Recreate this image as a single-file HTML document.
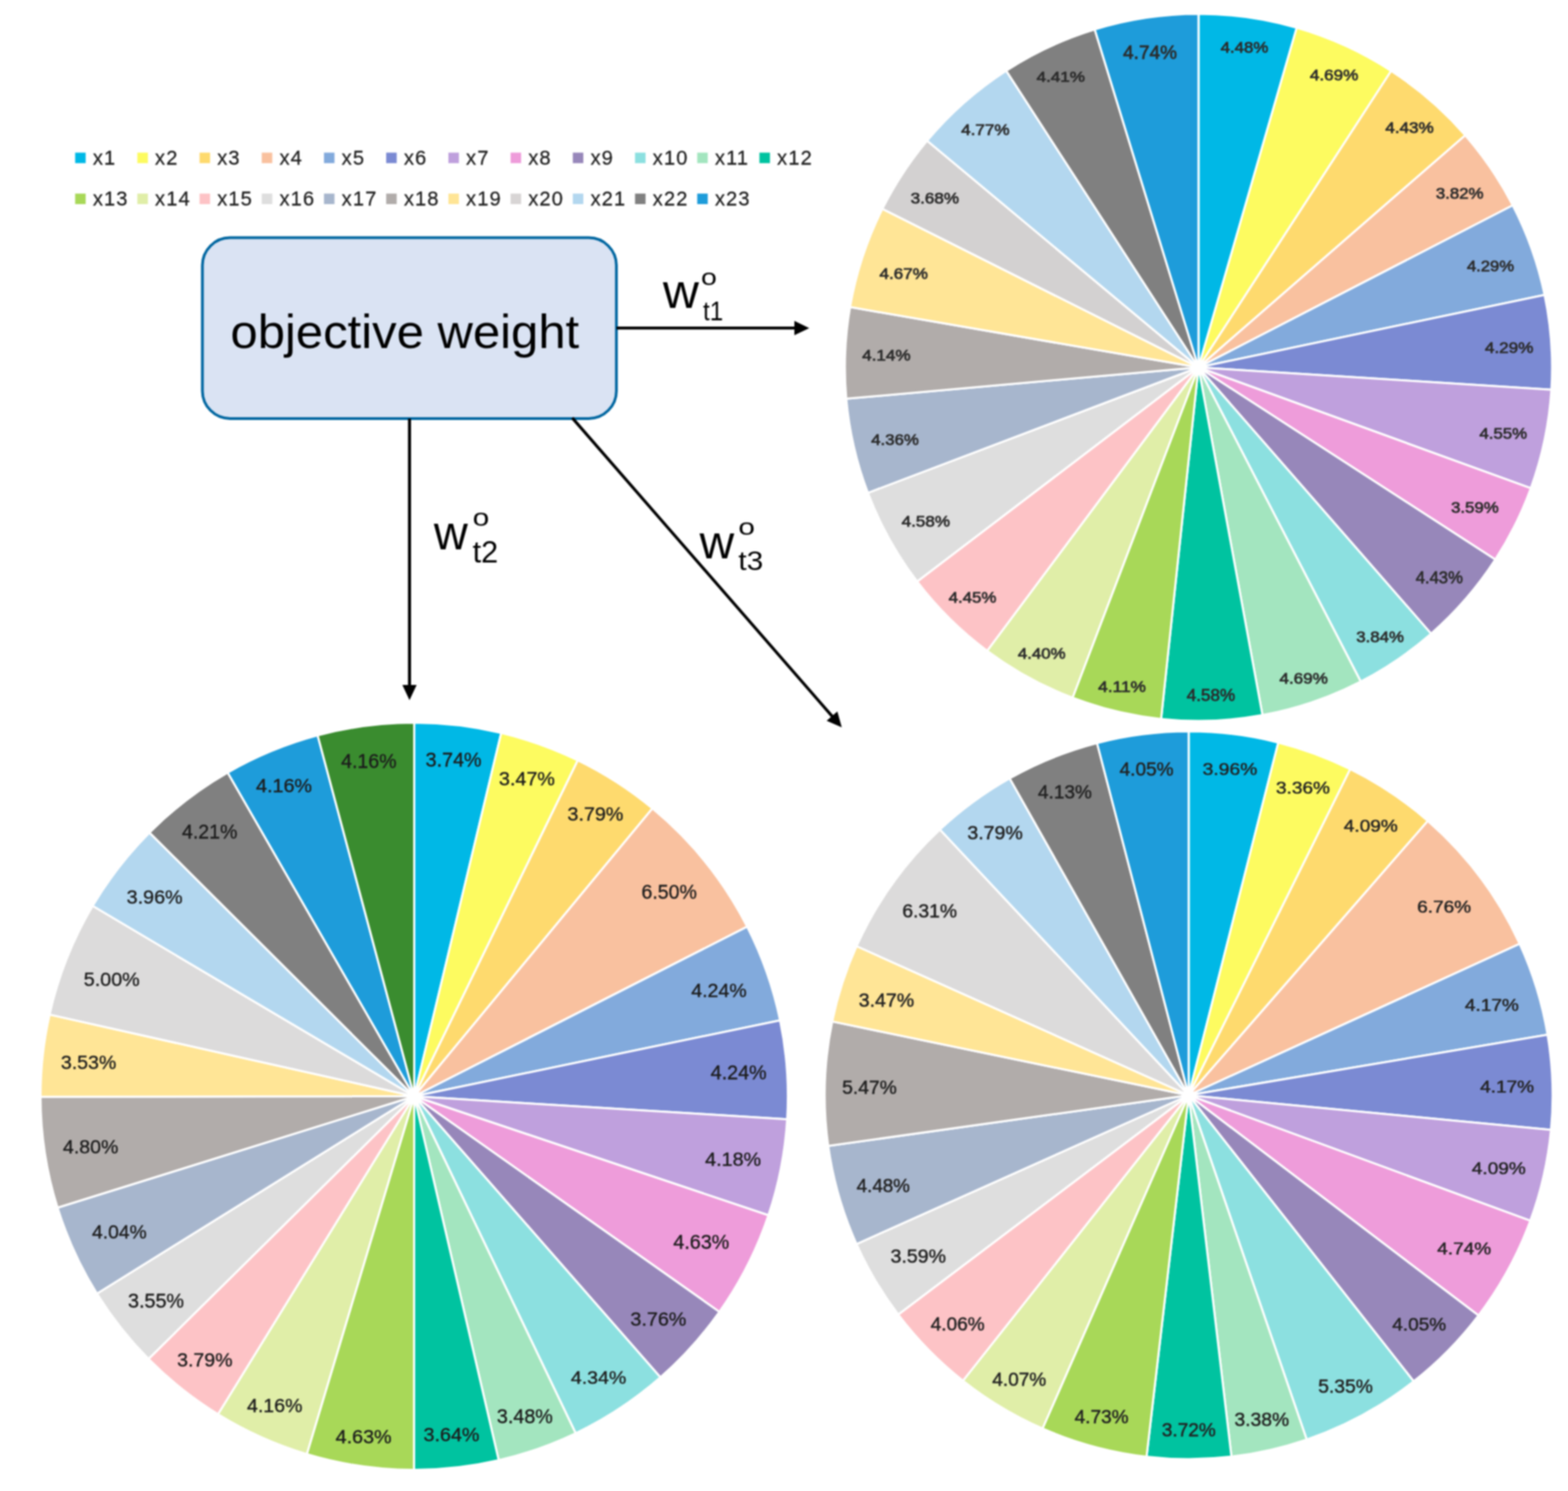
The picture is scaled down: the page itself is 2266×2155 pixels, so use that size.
<!DOCTYPE html><html><head><meta charset="utf-8"><title>objective weight</title><style>html,body{margin:0;padding:0;background:#fff;}body{width:2266px;height:2155px;overflow:hidden;}svg{display:block;filter:blur(0.8px);}</style></head><body><svg width="2266" height="2155" viewBox="0 0 2266 2155"><rect x="108.6" y="220.6" width="15.2" height="15.2" fill="#00B8E6"/><rect x="198.5" y="220.6" width="15.2" height="15.2" fill="#FDFB60"/><rect x="288.4" y="220.6" width="15.2" height="15.2" fill="#FEDA6E"/><rect x="378.3" y="220.6" width="15.2" height="15.2" fill="#F9C19F"/><rect x="468.2" y="220.6" width="15.2" height="15.2" fill="#82AADC"/><rect x="558.1" y="220.6" width="15.2" height="15.2" fill="#7B8AD3"/><rect x="648.0" y="220.6" width="15.2" height="15.2" fill="#BFA0DD"/><rect x="737.9" y="220.6" width="15.2" height="15.2" fill="#EE9CDA"/><rect x="827.8" y="220.6" width="15.2" height="15.2" fill="#9787BA"/><rect x="917.7" y="220.6" width="15.2" height="15.2" fill="#8CE0E0"/><rect x="1007.6" y="220.6" width="15.2" height="15.2" fill="#A3E5BF"/><rect x="1097.5" y="220.6" width="15.2" height="15.2" fill="#00C3A0"/><rect x="108.6" y="279.8" width="15.2" height="15.2" fill="#A8D858"/><rect x="198.5" y="279.8" width="15.2" height="15.2" fill="#E0EEA8"/><rect x="288.4" y="279.8" width="15.2" height="15.2" fill="#FDC3C6"/><rect x="378.3" y="279.8" width="15.2" height="15.2" fill="#DEDEDE"/><rect x="468.2" y="279.8" width="15.2" height="15.2" fill="#A7B6CD"/><rect x="558.1" y="279.8" width="15.2" height="15.2" fill="#B1ACAA"/><rect x="648.0" y="279.8" width="15.2" height="15.2" fill="#FFE596"/><rect x="737.9" y="279.8" width="15.2" height="15.2" fill="#D8D5D5"/><rect x="827.8" y="279.8" width="15.2" height="15.2" fill="#B3D7EF"/><rect x="917.7" y="279.8" width="15.2" height="15.2" fill="#808080"/><rect x="1007.6" y="279.8" width="15.2" height="15.2" fill="#1E9CDA"/><rect x="292.5" y="343.6" width="598.3" height="261.3" rx="40" ry="40" fill="#DAE3F3" stroke="#0066A0" stroke-width="4"/><g stroke="#000" fill="none"><line x1="891" y1="474.2" x2="1150" y2="474.2" stroke-width="4.2"/><line x1="591.8" y1="605" x2="591.8" y2="992" stroke-width="4.4"/><line x1="827" y1="604" x2="1205" y2="1038" stroke-width="4.2"/></g><g fill="#000"><polygon points="1148,463.8 1169.5,474.2 1148,484.6"/><polygon points="581.5,990 591.8,1012 602.1,990"/><polygon points="1194.6,1041.8 1216.5,1051.3 1210.1,1028.3"/></g><g stroke="#fff" stroke-width="3.0" stroke-linejoin="round"><path d="M1732.0 531.0L1732.00 20.00A511.0 511.0 0 0 1 1873.96 40.12Z" fill="#00B8E6"/><path d="M1732.0 531.0L1873.96 40.12A511.0 511.0 0 0 1 2010.42 102.51Z" fill="#FDFB60"/><path d="M1732.0 531.0L2010.42 102.51A511.0 511.0 0 0 1 2117.45 195.52Z" fill="#FEDA6E"/><path d="M1732.0 531.0L2117.45 195.52A511.0 511.0 0 0 1 2186.16 296.77Z" fill="#F9C19F"/><path d="M1732.0 531.0L2186.16 296.77A511.0 511.0 0 0 1 2232.14 426.19Z" fill="#82AADC"/><path d="M1732.0 531.0L2232.14 426.19A511.0 511.0 0 0 1 2241.99 563.17Z" fill="#7B8AD3"/><path d="M1732.0 531.0L2241.99 563.17A511.0 511.0 0 0 1 2212.21 705.70Z" fill="#BFA0DD"/><path d="M1732.0 531.0L2212.21 705.70A511.0 511.0 0 0 1 2160.97 808.68Z" fill="#EE9CDA"/><path d="M1732.0 531.0L2160.97 808.68A511.0 511.0 0 0 1 2068.15 915.87Z" fill="#9787BA"/><path d="M1732.0 531.0L2068.15 915.87A511.0 511.0 0 0 1 1966.44 985.05Z" fill="#8CE0E0"/><path d="M1732.0 531.0L1966.44 985.05A511.0 511.0 0 0 1 1824.45 1033.57Z" fill="#A3E5BF"/><path d="M1732.0 531.0L1824.45 1033.57A511.0 511.0 0 0 1 1678.00 1039.14Z" fill="#00C3A0"/><path d="M1732.0 531.0L1678.00 1039.14A511.0 511.0 0 0 1 1550.01 1008.49Z" fill="#A8D858"/><path d="M1732.0 531.0L1550.01 1008.49A511.0 511.0 0 0 1 1426.57 940.68Z" fill="#E0EEA8"/><path d="M1732.0 531.0L1426.57 940.68A511.0 511.0 0 0 1 1325.37 840.47Z" fill="#FDC3C6"/><path d="M1732.0 531.0L1325.37 840.47A511.0 511.0 0 0 1 1254.25 712.32Z" fill="#DEDEDE"/><path d="M1732.0 531.0L1254.25 712.32A511.0 511.0 0 0 1 1223.01 576.30Z" fill="#A7B6CD"/><path d="M1732.0 531.0L1223.01 576.30A511.0 511.0 0 0 1 1228.49 443.85Z" fill="#B1ACAA"/><path d="M1732.0 531.0L1228.49 443.85A511.0 511.0 0 0 1 1275.22 301.93Z" fill="#FFE596"/><path d="M1732.0 531.0L1275.22 301.93A511.0 511.0 0 0 1 1339.88 203.34Z" fill="#D3D1D1"/><path d="M1732.0 531.0L1339.88 203.34A511.0 511.0 0 0 1 1454.11 102.16Z" fill="#B3D7EF"/><path d="M1732.0 531.0L1454.11 102.16A511.0 511.0 0 0 1 1582.04 42.50Z" fill="#808080"/><path d="M1732.0 531.0L1582.04 42.50A511.0 511.0 0 0 1 1732.00 20.00Z" fill="#1E9CDA"/></g><circle cx="1732" cy="531" r="9" fill="#fff"/><g stroke="#fff" stroke-width="3.0" stroke-linejoin="round"><path d="M598.6 1584.5L598.60 1044.50A540.0 540.0 0 0 1 724.33 1059.34Z" fill="#00B8E6"/><path d="M598.6 1584.5L724.33 1059.34A540.0 540.0 0 0 1 834.95 1098.97Z" fill="#FDFB60"/><path d="M598.6 1584.5L834.95 1098.97A540.0 540.0 0 0 1 942.81 1168.42Z" fill="#FEDA6E"/><path d="M598.6 1584.5L942.81 1168.42A540.0 540.0 0 0 1 1079.74 1339.35Z" fill="#F9C19F"/><path d="M598.6 1584.5L1079.74 1339.35A540.0 540.0 0 0 1 1127.31 1474.66Z" fill="#82AADC"/><path d="M598.6 1584.5L1127.31 1474.66A540.0 540.0 0 0 1 1137.58 1617.73Z" fill="#7B8AD3"/><path d="M598.6 1584.5L1137.58 1617.73A540.0 540.0 0 0 1 1110.47 1756.52Z" fill="#BFA0DD"/><path d="M598.6 1584.5L1110.47 1756.52A540.0 540.0 0 0 1 1039.62 1896.11Z" fill="#EE9CDA"/><path d="M598.6 1584.5L1039.62 1896.11A540.0 540.0 0 0 1 954.43 1990.68Z" fill="#9787BA"/><path d="M598.6 1584.5L954.43 1990.68A540.0 540.0 0 0 1 831.89 2071.51Z" fill="#8CE0E0"/><path d="M598.6 1584.5L831.89 2071.51A540.0 540.0 0 0 1 720.70 2110.52Z" fill="#A3E5BF"/><path d="M598.6 1584.5L720.70 2110.52A540.0 540.0 0 0 1 598.26 2124.50Z" fill="#00C3A0"/><path d="M598.6 1584.5L598.26 2124.50A540.0 540.0 0 0 1 443.39 2101.71Z" fill="#A8D858"/><path d="M598.6 1584.5L443.39 2101.71A540.0 540.0 0 0 1 315.01 2044.04Z" fill="#E0EEA8"/><path d="M598.6 1584.5L315.01 2044.04A540.0 540.0 0 0 1 214.61 1964.17Z" fill="#FDC3C6"/><path d="M598.6 1584.5L214.61 1964.17A540.0 540.0 0 0 1 140.14 1869.82Z" fill="#DEDEDE"/><path d="M598.6 1584.5L140.14 1869.82A540.0 540.0 0 0 1 83.18 1745.55Z" fill="#A7B6CD"/><path d="M598.6 1584.5L83.18 1745.55A540.0 540.0 0 0 1 58.60 1585.18Z" fill="#B1ACAA"/><path d="M598.6 1584.5L58.60 1585.18A540.0 540.0 0 0 1 71.68 1466.37Z" fill="#FFE596"/><path d="M598.6 1584.5L71.68 1466.37A540.0 540.0 0 0 1 133.97 1309.33Z" fill="#DCDBDB"/><path d="M598.6 1584.5L133.97 1309.33A540.0 540.0 0 0 1 216.04 1203.38Z" fill="#B3D7EF"/><path d="M598.6 1584.5L216.04 1203.38A540.0 540.0 0 0 1 328.99 1116.62Z" fill="#808080"/><path d="M598.6 1584.5L328.99 1116.62A540.0 540.0 0 0 1 459.06 1062.84Z" fill="#1E9CDA"/><path d="M598.6 1584.5L459.06 1062.84A540.0 540.0 0 0 1 598.60 1044.50Z" fill="#3A8C2F"/></g><circle cx="598.6" cy="1584.5" r="9" fill="#fff"/><g stroke="#fff" stroke-width="3.0" stroke-linejoin="round"><path d="M1717.8 1583.0L1717.80 1057.00A526.0 526.0 0 0 1 1847.34 1073.20Z" fill="#00B8E6"/><path d="M1717.8 1583.0L1847.34 1073.20A526.0 526.0 0 0 1 1951.30 1111.67Z" fill="#FDFB60"/><path d="M1717.8 1583.0L1951.30 1111.67A526.0 526.0 0 0 1 2063.44 1186.51Z" fill="#FEDA6E"/><path d="M1717.8 1583.0L2063.44 1186.51A526.0 526.0 0 0 1 2196.13 1364.19Z" fill="#F9C19F"/><path d="M1717.8 1583.0L2196.13 1364.19A526.0 526.0 0 0 1 2236.48 1495.57Z" fill="#82AADC"/><path d="M1717.8 1583.0L2236.48 1495.57A526.0 526.0 0 0 1 2241.43 1632.92Z" fill="#7B8AD3"/><path d="M1717.8 1583.0L2241.43 1632.92A526.0 526.0 0 0 1 2211.54 1764.38Z" fill="#BFA0DD"/><path d="M1717.8 1583.0L2211.54 1764.38A526.0 526.0 0 0 1 2136.57 1901.29Z" fill="#EE9CDA"/><path d="M1717.8 1583.0L2136.57 1901.29A526.0 526.0 0 0 1 2042.95 1996.46Z" fill="#9787BA"/><path d="M1717.8 1583.0L2042.95 1996.46A526.0 526.0 0 0 1 1888.35 2080.58Z" fill="#8CE0E0"/><path d="M1717.8 1583.0L1888.35 2080.58A526.0 526.0 0 0 1 1779.63 2105.35Z" fill="#A3E5BF"/><path d="M1717.8 1583.0L1779.63 2105.35A526.0 526.0 0 0 1 1656.95 2105.47Z" fill="#00C3A0"/><path d="M1717.8 1583.0L1656.95 2105.47A526.0 526.0 0 0 1 1506.61 2064.74Z" fill="#A8D858"/><path d="M1717.8 1583.0L1506.61 2064.74A526.0 526.0 0 0 1 1391.61 1995.65Z" fill="#E0EEA8"/><path d="M1717.8 1583.0L1391.61 1995.65A526.0 526.0 0 0 1 1298.03 1899.97Z" fill="#FDC3C6"/><path d="M1717.8 1583.0L1298.03 1899.97A526.0 526.0 0 0 1 1237.77 1798.05Z" fill="#DEDEDE"/><path d="M1717.8 1583.0L1237.77 1798.05A526.0 526.0 0 0 1 1196.92 1656.22Z" fill="#A7B6CD"/><path d="M1717.8 1583.0L1196.92 1656.22A526.0 526.0 0 0 1 1202.71 1476.40Z" fill="#B1ACAA"/><path d="M1717.8 1583.0L1202.71 1476.40A526.0 526.0 0 0 1 1237.97 1367.50Z" fill="#FFE596"/><path d="M1717.8 1583.0L1237.97 1367.50A526.0 526.0 0 0 1 1358.42 1198.91Z" fill="#DCDBDB"/><path d="M1717.8 1583.0L1358.42 1198.91A526.0 526.0 0 0 1 1459.18 1124.97Z" fill="#B3D7EF"/><path d="M1717.8 1583.0L1459.18 1124.97A526.0 526.0 0 0 1 1585.38 1073.94Z" fill="#808080"/><path d="M1717.8 1583.0L1585.38 1073.94A526.0 526.0 0 0 1 1717.80 1057.00Z" fill="#1E9CDA"/></g><circle cx="1717.8" cy="1583" r="9" fill="#fff"/><g font-family='"Liberation Sans", Arial, sans-serif'><g font-size="29.00" letter-spacing="1.60" fill="#1f1f1f" stroke="#1f1f1f" stroke-width="0.35"><text x="134.2" y="238.0">x1</text><text x="224.1" y="238.0">x2</text><text x="314.0" y="238.0">x3</text><text x="403.9" y="238.0">x4</text><text x="493.8" y="238.0">x5</text><text x="583.7" y="238.0">x6</text><text x="673.6" y="238.0">x7</text><text x="763.5" y="238.0">x8</text><text x="853.4" y="238.0">x9</text><text x="943.3" y="238.0">x10</text><text x="1033.2" y="238.0">x11</text><text x="1123.1" y="238.0">x12</text><text x="134.2" y="297.0">x13</text><text x="224.1" y="297.0">x14</text><text x="314.0" y="297.0">x15</text><text x="403.9" y="297.0">x16</text><text x="493.8" y="297.0">x17</text><text x="583.7" y="297.0">x18</text><text x="673.6" y="297.0">x19</text><text x="763.5" y="297.0">x20</text><text x="853.4" y="297.0">x21</text><text x="943.3" y="297.0">x22</text><text x="1033.2" y="297.0">x23</text></g><g fill="#000"><text x="585.00" y="502.77" font-size="68.39" text-anchor="middle" textLength="504.00" lengthAdjust="spacingAndGlyphs">objective weight</text><text x="1024.50" y="411.80" font-size="33.04" text-anchor="middle" textLength="23.00" lengthAdjust="spacingAndGlyphs">o</text><text x="695.00" y="759.79" font-size="34.73" text-anchor="middle" textLength="24.00" lengthAdjust="spacingAndGlyphs">o</text><text x="1079.00" y="772.80" font-size="33.98" text-anchor="middle" textLength="24.00" lengthAdjust="spacingAndGlyphs">o</text></g><g fill="#000"><text x="984.00" y="444.58" font-size="70.30" text-anchor="middle" textLength="52.00" lengthAdjust="spacingAndGlyphs">w</text><text x="651.50" y="793.57" font-size="71.06" text-anchor="middle" textLength="49.00" lengthAdjust="spacingAndGlyphs">w</text><text x="1036.00" y="806.59" font-size="68.98" text-anchor="middle" textLength="50.00" lengthAdjust="spacingAndGlyphs">w</text><text x="1030.50" y="462.77" font-size="38.00" text-anchor="middle" textLength="29.00" lengthAdjust="spacingAndGlyphs">t1</text><text x="701.50" y="812.74" font-size="43.86" text-anchor="middle" textLength="37.00" lengthAdjust="spacingAndGlyphs">t2</text><text x="1085.00" y="823.77" font-size="38.00" text-anchor="middle" textLength="36.00" lengthAdjust="spacingAndGlyphs">t3</text></g><g fill="#000"></g><g fill="#2b2b2b" stroke="#2b2b2b" stroke-width="0.9"><text x="1798.50" y="75.86" font-size="22.67" text-anchor="middle" textLength="69.00" lengthAdjust="spacingAndGlyphs">4.48%</text><text x="1928.00" y="115.86" font-size="22.72" text-anchor="middle" textLength="70.00" lengthAdjust="spacingAndGlyphs">4.69%</text><text x="2037.00" y="191.87" font-size="21.34" text-anchor="middle" textLength="70.00" lengthAdjust="spacingAndGlyphs">4.43%</text><text x="2109.50" y="286.86" font-size="22.65" text-anchor="middle" textLength="69.00" lengthAdjust="spacingAndGlyphs">3.82%</text><text x="2154.00" y="391.86" font-size="22.67" text-anchor="middle" textLength="68.00" lengthAdjust="spacingAndGlyphs">4.29%</text><text x="2181.00" y="509.86" font-size="22.67" text-anchor="middle" textLength="70.00" lengthAdjust="spacingAndGlyphs">4.29%</text><text x="2172.50" y="633.86" font-size="22.84" text-anchor="middle" textLength="69.00" lengthAdjust="spacingAndGlyphs">4.55%</text><text x="2131.50" y="740.86" font-size="22.84" text-anchor="middle" textLength="69.00" lengthAdjust="spacingAndGlyphs">3.59%</text><text x="2080.00" y="842.85" font-size="24.17" text-anchor="middle" textLength="68.00" lengthAdjust="spacingAndGlyphs">4.43%</text><text x="1994.50" y="927.86" font-size="22.67" text-anchor="middle" textLength="69.00" lengthAdjust="spacingAndGlyphs">3.84%</text><text x="1884.00" y="987.86" font-size="22.67" text-anchor="middle" textLength="70.00" lengthAdjust="spacingAndGlyphs">4.69%</text><text x="1750.00" y="1012.86" font-size="24.05" text-anchor="middle" textLength="70.00" lengthAdjust="spacingAndGlyphs">4.58%</text><text x="1621.50" y="999.86" font-size="22.82" text-anchor="middle" textLength="69.00" lengthAdjust="spacingAndGlyphs">4.11%</text><text x="1505.50" y="951.86" font-size="22.67" text-anchor="middle" textLength="69.00" lengthAdjust="spacingAndGlyphs">4.40%</text><text x="1405.50" y="870.86" font-size="22.67" text-anchor="middle" textLength="69.00" lengthAdjust="spacingAndGlyphs">4.45%</text><text x="1338.00" y="760.86" font-size="22.67" text-anchor="middle" textLength="70.00" lengthAdjust="spacingAndGlyphs">4.58%</text><text x="1293.50" y="642.86" font-size="22.84" text-anchor="middle" textLength="69.00" lengthAdjust="spacingAndGlyphs">4.36%</text><text x="1281.00" y="520.86" font-size="22.65" text-anchor="middle" textLength="70.00" lengthAdjust="spacingAndGlyphs">4.14%</text><text x="1306.00" y="402.86" font-size="22.67" text-anchor="middle" textLength="70.00" lengthAdjust="spacingAndGlyphs">4.67%</text><text x="1351.00" y="293.86" font-size="22.67" text-anchor="middle" textLength="70.00" lengthAdjust="spacingAndGlyphs">3.68%</text><text x="1424.00" y="194.87" font-size="21.50" text-anchor="middle" textLength="70.00" lengthAdjust="spacingAndGlyphs">4.77%</text><text x="1533.00" y="117.88" font-size="20.14" text-anchor="middle" textLength="70.00" lengthAdjust="spacingAndGlyphs">4.41%</text><text x="1662.00" y="84.83" font-size="28.02" text-anchor="middle" textLength="78.00" lengthAdjust="spacingAndGlyphs">4.74%</text></g><g fill="#1c1c1c" stroke="#1c1c1c" stroke-width="0.45"><text x="655.50" y="1107.83" font-size="28.58" text-anchor="middle" textLength="81.00" lengthAdjust="spacingAndGlyphs">3.74%</text><text x="761.50" y="1134.84" font-size="27.29" text-anchor="middle" textLength="81.00" lengthAdjust="spacingAndGlyphs">3.47%</text><text x="860.50" y="1185.84" font-size="27.29" text-anchor="middle" textLength="81.00" lengthAdjust="spacingAndGlyphs">3.79%</text><text x="967.00" y="1298.83" font-size="28.71" text-anchor="middle" textLength="80.00" lengthAdjust="spacingAndGlyphs">6.50%</text><text x="1039.00" y="1440.84" font-size="27.34" text-anchor="middle" textLength="80.00" lengthAdjust="spacingAndGlyphs">4.24%</text><text x="1067.50" y="1559.83" font-size="28.71" text-anchor="middle" textLength="81.00" lengthAdjust="spacingAndGlyphs">4.24%</text><text x="1059.50" y="1684.84" font-size="27.34" text-anchor="middle" textLength="81.00" lengthAdjust="spacingAndGlyphs">4.18%</text><text x="1013.50" y="1804.83" font-size="28.64" text-anchor="middle" textLength="81.00" lengthAdjust="spacingAndGlyphs">4.63%</text><text x="951.50" y="1915.84" font-size="27.29" text-anchor="middle" textLength="81.00" lengthAdjust="spacingAndGlyphs">3.76%</text><text x="865.00" y="1999.84" font-size="25.94" text-anchor="middle" textLength="80.00" lengthAdjust="spacingAndGlyphs">4.34%</text><text x="758.50" y="2056.83" font-size="28.71" text-anchor="middle" textLength="81.00" lengthAdjust="spacingAndGlyphs">3.48%</text><text x="652.50" y="2082.84" font-size="27.29" text-anchor="middle" textLength="81.00" lengthAdjust="spacingAndGlyphs">3.64%</text><text x="525.50" y="2085.84" font-size="27.29" text-anchor="middle" textLength="81.00" lengthAdjust="spacingAndGlyphs">4.63%</text><text x="397.00" y="2040.84" font-size="27.29" text-anchor="middle" textLength="80.00" lengthAdjust="spacingAndGlyphs">4.16%</text><text x="296.00" y="1974.84" font-size="27.29" text-anchor="middle" textLength="80.00" lengthAdjust="spacingAndGlyphs">3.79%</text><text x="225.50" y="1889.83" font-size="28.71" text-anchor="middle" textLength="81.00" lengthAdjust="spacingAndGlyphs">3.55%</text><text x="172.50" y="1789.84" font-size="27.29" text-anchor="middle" textLength="79.00" lengthAdjust="spacingAndGlyphs">4.04%</text><text x="131.00" y="1666.84" font-size="27.29" text-anchor="middle" textLength="80.00" lengthAdjust="spacingAndGlyphs">4.80%</text><text x="128.00" y="1544.84" font-size="27.29" text-anchor="middle" textLength="80.00" lengthAdjust="spacingAndGlyphs">3.53%</text><text x="161.50" y="1424.84" font-size="27.29" text-anchor="middle" textLength="81.00" lengthAdjust="spacingAndGlyphs">5.00%</text><text x="223.50" y="1305.84" font-size="27.29" text-anchor="middle" textLength="81.00" lengthAdjust="spacingAndGlyphs">3.96%</text><text x="303.00" y="1211.83" font-size="28.71" text-anchor="middle" textLength="80.00" lengthAdjust="spacingAndGlyphs">4.21%</text><text x="410.50" y="1144.84" font-size="27.29" text-anchor="middle" textLength="81.00" lengthAdjust="spacingAndGlyphs">4.16%</text><text x="533.00" y="1109.83" font-size="28.71" text-anchor="middle" textLength="80.00" lengthAdjust="spacingAndGlyphs">4.16%</text></g><g fill="#222" stroke="#222" stroke-width="0.6"><text x="1777.50" y="1119.85" font-size="24.67" text-anchor="middle" textLength="79.00" lengthAdjust="spacingAndGlyphs">3.96%</text><text x="1883.00" y="1146.85" font-size="24.67" text-anchor="middle" textLength="78.00" lengthAdjust="spacingAndGlyphs">3.36%</text><text x="1981.00" y="1201.85" font-size="24.67" text-anchor="middle" textLength="78.00" lengthAdjust="spacingAndGlyphs">4.09%</text><text x="2087.00" y="1318.85" font-size="24.67" text-anchor="middle" textLength="78.00" lengthAdjust="spacingAndGlyphs">6.76%</text><text x="2156.00" y="1460.85" font-size="24.67" text-anchor="middle" textLength="78.00" lengthAdjust="spacingAndGlyphs">4.17%</text><text x="2178.00" y="1578.85" font-size="24.67" text-anchor="middle" textLength="78.00" lengthAdjust="spacingAndGlyphs">4.17%</text><text x="2166.00" y="1696.85" font-size="24.67" text-anchor="middle" textLength="78.00" lengthAdjust="spacingAndGlyphs">4.09%</text><text x="2116.00" y="1812.85" font-size="24.67" text-anchor="middle" textLength="78.00" lengthAdjust="spacingAndGlyphs">4.74%</text><text x="2051.00" y="1922.84" font-size="26.04" text-anchor="middle" textLength="78.00" lengthAdjust="spacingAndGlyphs">4.05%</text><text x="1944.50" y="2012.84" font-size="27.39" text-anchor="middle" textLength="79.00" lengthAdjust="spacingAndGlyphs">5.35%</text><text x="1823.50" y="2060.84" font-size="27.39" text-anchor="middle" textLength="79.00" lengthAdjust="spacingAndGlyphs">3.38%</text><text x="1718.00" y="2075.84" font-size="27.39" text-anchor="middle" textLength="78.00" lengthAdjust="spacingAndGlyphs">3.72%</text><text x="1592.00" y="2056.84" font-size="27.39" text-anchor="middle" textLength="78.00" lengthAdjust="spacingAndGlyphs">4.73%</text><text x="1473.00" y="2002.84" font-size="27.40" text-anchor="middle" textLength="78.00" lengthAdjust="spacingAndGlyphs">4.07%</text><text x="1384.00" y="1922.84" font-size="27.40" text-anchor="middle" textLength="78.00" lengthAdjust="spacingAndGlyphs">4.06%</text><text x="1327.00" y="1824.84" font-size="27.40" text-anchor="middle" textLength="80.00" lengthAdjust="spacingAndGlyphs">3.59%</text><text x="1276.50" y="1722.84" font-size="27.40" text-anchor="middle" textLength="77.00" lengthAdjust="spacingAndGlyphs">4.48%</text><text x="1256.50" y="1580.84" font-size="27.39" text-anchor="middle" textLength="79.00" lengthAdjust="spacingAndGlyphs">5.47%</text><text x="1281.00" y="1454.84" font-size="27.40" text-anchor="middle" textLength="80.00" lengthAdjust="spacingAndGlyphs">3.47%</text><text x="1343.50" y="1325.84" font-size="27.40" text-anchor="middle" textLength="79.00" lengthAdjust="spacingAndGlyphs">6.31%</text><text x="1438.00" y="1212.84" font-size="27.40" text-anchor="middle" textLength="80.00" lengthAdjust="spacingAndGlyphs">3.79%</text><text x="1539.00" y="1153.84" font-size="27.40" text-anchor="middle" textLength="78.00" lengthAdjust="spacingAndGlyphs">4.13%</text><text x="1657.00" y="1120.84" font-size="27.40" text-anchor="middle" textLength="78.00" lengthAdjust="spacingAndGlyphs">4.05%</text></g></g></svg></body></html>
